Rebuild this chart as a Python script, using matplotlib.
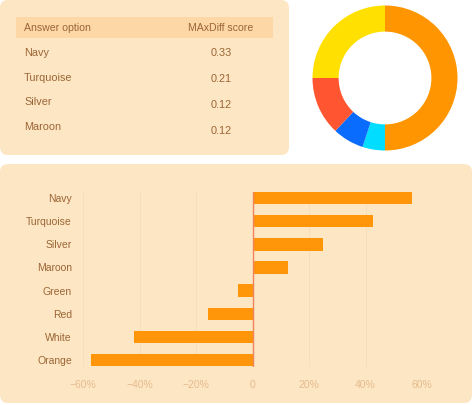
import matplotlib.pyplot as plt
from matplotlib.patches import FancyBboxPatch, Rectangle
from matplotlib.ticker import FuncFormatter

plt.rcParams['font.family'] = ['Liberation Sans', 'DejaVu Sans']

# table data
table_header = ['Answer option', 'MAxDiff score']
table_options = ['Navy', 'Turquoise', 'Silver', 'Maroon']
table_scores = ['0.33', '0.21', '0.12', '0.12']

# donut data (clockwise from top)
donut_values = [50, 5, 7, 13, 25]
donut_colors = ['#FF9500', '#00DDFF', '#0A6CFF', '#FF5530', '#FFE000']

# bar chart data
bar_labels = ['Navy', 'Turquoise', 'Silver', 'Maroon', 'Green', 'Red', 'White', 'Orange']
bar_values = [0.563, 0.425, 0.248, 0.124, -0.053, -0.159, -0.418, -0.57]
x_ticks = [-0.6, -0.4, -0.2, 0, 0.2, 0.4, 0.6]

W, H = 474, 405
PANEL = '#FDE6C4'
HEADER = '#FDD8A6'
TEXT = '#9C6535'
TICK = '#E6BC8E'
BAR = '#FF9508'

fig = plt.figure(figsize=(W / 100, H / 100), dpi=100)
fig.patch.set_facecolor('white')
tr = fig.dpi_scale_trans


def px_box(x0, y0, x1, y1, color, rounding):
  # pixel coords from top-left -> inches from bottom-left
  p = FancyBboxPatch((x0 / 100, (H - y1) / 100), (x1 - x0) / 100, (y1 - y0) / 100,
                     boxstyle=f'round,pad=0,rounding_size={rounding}',
                     transform=tr, facecolor=color, edgecolor='none', zorder=-10)
  fig.patches.append(p)


def px_text(x, y, s, **kw):
  fig.text(x / W, 1 - y / H, s, **kw)


def pct(v, pos):
  if abs(v) < 1e-9:
    return '0'
  s = f'{abs(v) * 100:.0f}%'
  return '\u2212' + s if v < 0 else s


# panels
px_box(0, 0, 289, 155, PANEL, 0.08)
px_box(0, 164, 472, 403, PANEL, 0.08)
fig.patches.append(Rectangle((16 / 100, (H - 38) / 100), (273 - 16) / 100, 21 / 100,
                             transform=tr, facecolor=HEADER, edgecolor='none', zorder=-9))

# table
px_text(24, 28, table_header[0], color=TEXT, fontsize=7.6, va='center', ha='left')
px_text(221, 28, table_header[1], color=TEXT, fontsize=7.6, va='center', ha='center')
label_y = [53, 78, 102, 127]
score_y = [53, 79, 105, 131]
for opt, sc, ly, sy in zip(table_options, table_scores, label_y, score_y):
  px_text(24, ly, opt, color=TEXT, fontsize=7.8, va='center', ha='left')
  px_text(221, sy, sc, color=TEXT, fontsize=7.8, va='center', ha='center')

# donut
cx, cy, r = 385, 78, 72.5
ax_d = fig.add_axes([(cx - r) / W, 1 - (cy + r) / H, 2 * r / W, 2 * r / H])
ax_d.pie(donut_values, colors=donut_colors, startangle=90, counterclock=False,
         radius=1, wedgeprops=dict(width=0.36, linewidth=0))
ax_d.set_xlim(-1, 1)
ax_d.set_ylim(-1, 1)
ax_d.axis('off')

# bar chart
ax = fig.add_axes([83 / W, 1 - 367 / H, 339 / W, 175 / H])
ax.set_facecolor('none')
y = range(len(bar_labels))
ax.barh(list(y), bar_values, height=0.54, color=BAR, zorder=3)
ax.set_xlim(-0.6, 0.6)
ax.set_ylim(7.3, -0.26)
ax.set_yticks(list(y))
ax.set_yticklabels(bar_labels)
ax.set_xticks(x_ticks)
ax.xaxis.set_major_formatter(FuncFormatter(pct))
ax.tick_params(axis='y', length=0, pad=8, labelsize=7.5, labelcolor=TEXT)
ax.tick_params(axis='x', length=0, pad=9, labelsize=7.5, labelcolor=TICK)
ax.grid(axis='x', color='#F8DDBA', linewidth=0.7, zorder=1)
ax.axvline(0, color='#F2845A', linewidth=1.0, zorder=4)
for s in ax.spines.values():
  s.set_visible(False)

fig.savefig('out.png', dpi=100, facecolor='white')
